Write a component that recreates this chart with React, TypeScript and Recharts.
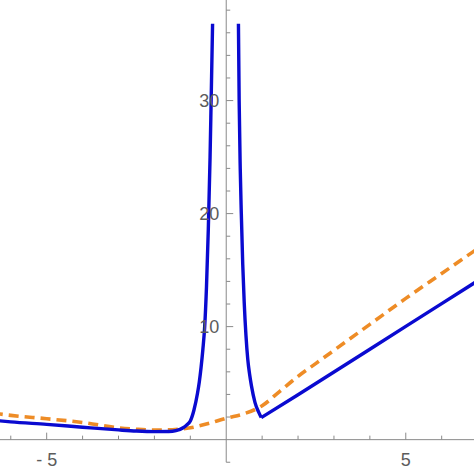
import { LineChart, Line, XAxis, YAxis, ReferenceLine, ReferenceDot } from "recharts";

// blue curve, left branch (x < pole)
const blueLeftX = [-6.5, -6, -5, -4, -3, -2.5, -2, -1.6, -1.4, -1.2, -1.1, -1.0, -0.9, -0.8, -0.75, -0.7, -0.65, -0.6, -0.55, -0.5, -0.45, -0.42, -0.38];
const blueLeftY = [1.72, 1.57, 1.35, 1.1, 0.86, 0.76, 0.71, 0.72, 0.8, 1.05, 1.3, 1.65, 2.6, 4.1, 5.1, 6.4, 8.0, 10.0, 13.5, 18.5, 25.0, 30.0, 36.8];

// blue curve, right branch: falling part, then straight part from the cusp
const blueFallX = [0.34, 0.36, 0.39, 0.42, 0.46, 0.5, 0.55, 0.6, 0.65, 0.7, 0.8, 0.9, 0.975];
const blueFallY = [36.8, 30.0, 24.0, 20.0, 15.5, 12.2, 9.2, 7.1, 5.8, 4.8, 3.3, 2.45, 1.95];
const blueRiseX = [0.975, 2, 3, 4, 5, 6, 7];
const blueRiseY = [1.95, 3.97, 5.98, 8.0, 10.02, 12.04, 14.05];

// orange dashed curve
const orangeX = [-6.5, -6, -5, -4, -3, -2.5, -2, -1.5, -1, -0.5, 0, 0.5, 1, 1.5, 2, 2.5, 3, 4, 5, 6, 7];
const orangeY = [2.35, 2.15, 1.85, 1.52, 1.05, 0.92, 0.85, 0.88, 1.05, 1.42, 1.9, 2.3, 3.0, 4.3, 5.6, 6.75, 7.9, 10.2, 12.5, 14.7, 16.9];

const xTicks = [-6, -5, -4, -3, -2, -1, 1, 2, 3, 4, 5, 6];
const xLabels = [-5, 5];
const yTicks = [-2, 2, 4, 6, 8, 10, 12, 14, 16, 18, 20, 22, 24, 26, 28, 30, 32, 34, 36, 38];
const yLabels = [10, 20, 30];

const X_DOMAIN = [-6.3, 6.9];
const Y_DOMAIN = [-3.04, 38.9];

const AXIS = "#8a8a8a";
const LABEL = "#5c5c5c";
const BLUE = "#0a0ad0";
const FONT = "'Liberation Sans', Arial, sans-serif";

const pts = (xs: number[], ys: number[]) => xs.map((x, i) => ({ x, y: ys[i] }));

const xTickShape = (major: boolean) => (p: any) => (
  <g>
    <line x1={p.cx} y1={p.cy} x2={p.cx} y2={p.cy - (major ? 7 : 4)} stroke={AXIS} strokeWidth={1} />
    {major && (
      <text x={p.cx} y={p.cy + 20} textAnchor="middle" dominantBaseline="central" fill={LABEL} fontSize={18} fontFamily={FONT}>
        {p.label}
      </text>
    )}
  </g>
);

const yTickShape = (major: boolean) => (p: any) => (
  <g>
    <line x1={p.cx} y1={p.cy} x2={p.cx + (major ? 7 : 4)} y2={p.cy} stroke={AXIS} strokeWidth={1} />
    {major && (
      <text x={p.cx - 7} y={p.cy} textAnchor="end" dominantBaseline="central" fill={LABEL} fontSize={18} fontFamily={FONT}>
        {p.label}
      </text>
    )}
  </g>
);

export default function App() {
  return (
    <div style={{ position: "absolute", left: 0, top: 0, background: "#fff" }}>
      <LineChart width={474} height={474} margin={{ top: 0, right: 0, bottom: 0, left: 0 }}>
        <XAxis type="number" dataKey="x" domain={X_DOMAIN} allowDataOverflow hide />
        <YAxis type="number" domain={Y_DOMAIN} allowDataOverflow hide />
        <ReferenceLine y={0} stroke={AXIS} strokeWidth={1} ifOverflow="visible" />
        <ReferenceLine segment={[{ x: 0, y: -2 }, { x: 0, y: Y_DOMAIN[1] }]} stroke={AXIS} strokeWidth={1} ifOverflow="visible" />
        {xTicks.map(t => (
          <ReferenceDot key={"xt" + t} x={t} y={0} ifOverflow="visible"
            shape={(p: any) => xTickShape(xLabels.includes(t))({ ...p, label: t < 0 ? `- ${-t}` : `${t}` })} />
        ))}
        {yTicks.map(t => (
          <ReferenceDot key={"yt" + t} x={0} y={t} ifOverflow="visible"
            shape={(p: any) => yTickShape(yLabels.includes(t))({ ...p, label: `${t}` })} />
        ))}
        <Line data={pts(orangeX, orangeY)} dataKey="y" type="monotone" stroke="#ee8c26" strokeWidth={3.6}
          strokeDasharray="10 6" dot={false} isAnimationActive={false} />
        <Line data={pts(blueLeftX, blueLeftY)} dataKey="y" type="monotone" stroke={BLUE} strokeWidth={3.4}
          dot={false} isAnimationActive={false} />
        <Line data={pts(blueFallX, blueFallY)} dataKey="y" type="monotone" stroke={BLUE} strokeWidth={3.4}
          dot={false} isAnimationActive={false} />
        <Line data={pts(blueRiseX, blueRiseY)} dataKey="y" type="linear" stroke={BLUE} strokeWidth={3.4}
          dot={false} isAnimationActive={false} />
      </LineChart>
    </div>
  );
}
